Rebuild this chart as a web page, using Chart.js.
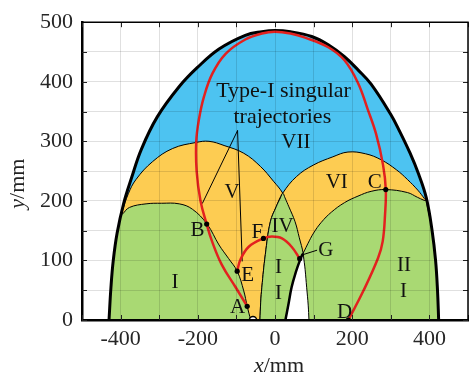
<!DOCTYPE html>
<html><head><meta charset="utf-8">
<script src="https://cdn.jsdelivr.net/npm/chart.js@4"></script>
<style>html,body{margin:0;padding:0;background:#fff}#wrap{width:474px;height:383px}</style>
</head><body>
<div id="wrap"><canvas id="c" width="474" height="383"></canvas></div>
<script>
// ---- data (mm) ----
const outerX = [-430,-425,-419,-409,-392,-372,-346,-305,-248,-201,-145,-77,-34,0,40,95,138,180,215,249,300,322,350,372,392,407,416,421,424];
const outerY = [0,55,100,146,196,238,287,341,392,424,455,478,484,486,484,476,462,442,420,396,345,318,280,245,205,150,100,50,0];

const yelLX = [-430,-425,-419,-409,-403,-399,-396,-380,-360,-317,-265,-205,-171,-132,-81,-38,-4,20,36,52,63,73,78,82,86,88];
const yelLY = [0,55,100,146,164,176,182,212,236,266,288,298,300,293,280,258,233,213,190,165,138,112,85,55,25,0];

const yelRX = [-39,-37,-34,-25,-12,3,20,56,99,150,189,235,275,315,343,370,387,392,394,407,416,421,424];
const yelRY = [0,30,55,110,165,190,213,241,260,274,282,279,269,252,236,218,204,200,193,150,100,50,0];

const lensX = [-39,-37,-34,-25,-12,3,14,20,26,36,52,63,73,78,82,86,88];
const lensY = [0,30,55,110,165,190,205,213,205,190,165,138,112,85,55,25,0];

const greenLX = [-430,-425,-419,-409,-403,-399,-395,-377,-334,-294,-248,-214,-176,-145,-120,-98,-81,-72,-63];
const greenLY = [0,55,100,146,164,176,178,189,195,196,195,186,161,126,103,82,49,23,0];

const greenRX = [71,72,72.5,73,76,85,100,120,146,180,215,249,287,343,369,386,392,394,407,416,421,424];
const greenRY = [0,50,100,112,116,128,146,164,181,197,208,216,219,214,206,201,200,193,150,100,50,0];

const holeX = [27,35,43,53.5,65,70,72,73,74,76,78,82,86,88];
const holeY = [0,27,55,79.5,101,108.5,111,112,106,96,85,55,25,0];
const holeEdgeX = [27,35,43,53.5,65,71];
const holeEdgeY = [0,27,55,79.5,101,110];

const redBigX = [-72,-102,-138,-163,-177,-193,-203,-204,-197,-184,-162,-128,-77,-34,0,40,78,138,180,215,240,262,280,287,285,279,267,229,190];
const redBigY = [23,55,93,132,161,200,250,300,337,375,414,447,471,481,484,481,474,458,436,398,354,312,260,219,176,132,104,49,0];

const redSmallX = [-98,-89.5,-68,-30,-8,18,43,64];
const redSmallY = [82,101.5,123,137,140,137,123,103];

const dotNames = ['A','B','C','D','E','F','G'];
const dotX = [-72,-177,287,190,-98,-30,64];
const dotY = [23,161,219,0,82,137,103];

const lead1X = [-97,-188]; const lead1Y = [318,196];
const lead2X = [-97,-85];  const lead2Y = [318,99];
const lead3X = [74,108];   const lead3Y = [110,117];

const holeSmallX = [-57]; const holeSmallY = [0];

const xTickLabels = [-400,-200,0,200,400];
const yTickLabels = [0,100,200,300,400,500];

const labelTexts = ['Type-I singular','trajectories','VII','V','VI','C','B','I','E','A','F','IV','I','I','G','II','I','D'];
const labelX = [22,19,54,-111,160,258.5,-201,-259,-71,-97,-46,19.5,9,9,132,334,333,180.5];
const labelY = [374,331,288,205,222,222,141,53,66,11,137,148,79,36,107,82,38,3];

// ---- styling ----
const FONT = '"Liberation Serif","Times New Roman","DejaVu Serif",serif';
const BLUE = '#4dc3f1', YEL = '#fdcc52', GRN = '#a9d973', RED = '#e3211f';
const T = 0.4;

function pts(xs, ys){ return xs.map((v,i)=>({x:v, y:ys[i]})); }
function area(label, xs, ys, color, order, bw){
  return {label, data: pts(xs,ys), fill:'origin', backgroundColor:color, borderColor:'#000',
    borderWidth:bw, pointRadius:0, tension:T, order};
}
function line(label, xs, ys, color, width, order, tension){
  return {label, data: pts(xs,ys), fill:false, borderColor:color, borderWidth:width,
    pointRadius:0, tension, order, borderCapStyle:'round', borderJoinStyle:'round'};
}

const overlay = {
  id:'overlay',
  afterDraw(chart){
    const {ctx, chartArea:a, scales:{x, y}} = chart;
    ctx.save();
    // inner tick marks
    ctx.strokeStyle = '#222'; ctx.lineWidth = 1;
    x.ticks.forEach(t=>{
      const px = Math.round(x.getPixelForValue(t.value))+0.5;
      ctx.beginPath(); ctx.moveTo(px,a.bottom); ctx.lineTo(px,a.bottom-5);
      ctx.moveTo(px,a.top); ctx.lineTo(px,a.top+5); ctx.stroke();
    });
    y.ticks.forEach(t=>{
      const py = Math.round(y.getPixelForValue(t.value))+0.5;
      ctx.beginPath(); ctx.moveTo(a.left,py); ctx.lineTo(a.left+5,py);
      ctx.moveTo(a.right,py); ctx.lineTo(a.right-5,py); ctx.stroke();
    });
    // top and right frame
    ctx.strokeStyle = '#000'; ctx.lineWidth = 1.5;
    ctx.beginPath(); ctx.moveTo(a.left,a.top); ctx.lineTo(a.right,a.top); ctx.lineTo(a.right,a.bottom); ctx.stroke();
    // labels
    ctx.fillStyle = '#111'; ctx.textAlign = 'center'; ctx.textBaseline = 'alphabetic';
    labelTexts.forEach((s,i)=>{
      ctx.font = (i<2 ? '22px ' : '21px ') + FONT;
      ctx.fillText(s, x.getPixelForValue(labelX[i]), y.getPixelForValue(labelY[i]));
    });
    // axis titles
    ctx.fillStyle = '#222';
    const cx = (a.left+a.right)/2 + 4, by = a.bottom + 52;
    ctx.font = 'italic 22px ' + FONT; const w1 = ctx.measureText('x').width;
    ctx.font = '22px ' + FONT; const w2 = ctx.measureText('/mm').width;
    ctx.textAlign = 'left';
    ctx.font = 'italic 22px ' + FONT; ctx.fillText('x', cx-(w1+w2)/2, by);
    ctx.font = '22px ' + FONT; ctx.fillText('/mm', cx-(w1+w2)/2+w1, by);
    ctx.translate(a.left-58.5, (a.top+a.bottom)/2 + 12.5);
    ctx.rotate(-Math.PI/2);
    ctx.font = 'italic 22px ' + FONT; const v1 = ctx.measureText('y').width;
    ctx.font = '22px ' + FONT; const v2 = ctx.measureText('/mm').width;
    ctx.font = 'italic 22px ' + FONT; ctx.fillText('y', -(v1+v2)/2, 0);
    ctx.font = '22px ' + FONT; ctx.fillText('/mm', -(v1+v2)/2+v1, 0);
    ctx.restore();
  }
};

new Chart(document.getElementById('c'), {
  type:'line',
  data:{ datasets:[
    area('outer', outerX, outerY, BLUE, 100, 0),
    area('V', yelLX, yelLY, YEL, 90, 1),
    area('VI', yelRX, yelRY, YEL, 89, 1),
    area('II', lensX, lensY, GRN, 80, 1),
    area('I', greenLX, greenLY, GRN, 79, 1),
    area('III', greenRX, greenRY, GRN, 78, 1),
    area('hole', holeX, holeY, '#ffffff', 70, 1),
    line('holeEdge', holeEdgeX, holeEdgeY, '#000', 2.5, 69, T),
    line('outerEdge', outerX, outerY, '#000', 3, 60, T),
    line('lead1', lead1X, lead1Y, '#000', 1, 50, 0),
    line('lead2', lead2X, lead2Y, '#000', 1, 50, 0),
    line('lead3', lead3X, lead3Y, '#000', 1, 50, 0),
    line('redBig', redBigX, redBigY, RED, 2.5, 40, T),
    line('redSmall', redSmallX, redSmallY, RED, 2.5, 39, T),
    {label:'points', data: pts(dotX,dotY), showLine:false, pointRadius:2.6, pointBackgroundColor:'#000', pointBorderWidth:0, order:30},
    {label:'smallHole', data: pts(holeSmallX,holeSmallY), showLine:false, pointRadius:3.6, pointBackgroundColor:'#fff', pointBorderColor:'#000', pointBorderWidth:1.5, clip:0, order:29}
  ]},
  options:{
    animation:false, responsive:false, events:[],
    layout:{ padding:{left:0,right:4,top:16,bottom:0}, autoPadding:false },
    plugins:{ legend:{display:false}, tooltip:{enabled:false} },
    scales:{
      x:{ type:'linear', min:-500, max:500,
        afterFit:s=>{ s.height = 63; },
        grid:{ color:'rgba(0,0,0,0.12)', lineWidth:1, drawTicks:false, z:1 },
        border:{ display:true, color:'#000', width:2.5, z:1 },
        ticks:{ stepSize:100, autoSkip:false, maxRotation:0, padding:6, color:'#262626',
          font:{family:FONT, size:22},
          callback:v=> xTickLabels.includes(v) ? String(v) : '' } },
      y:{ type:'linear', min:0, max:500,
        afterFit:s=>{ s.width = 82; },
        grid:{ color:'rgba(0,0,0,0.12)', lineWidth:1, drawTicks:false, z:1 },
        border:{ display:true, color:'#000', width:2.5, z:1 },
        ticks:{ stepSize:50, autoSkip:false, padding:9, color:'#262626',
          font:{family:FONT, size:22},
          callback:v=> yTickLabels.includes(v) ? String(v) : '' } }
    }
  },
  plugins:[overlay]
});
</script>
</body></html>
